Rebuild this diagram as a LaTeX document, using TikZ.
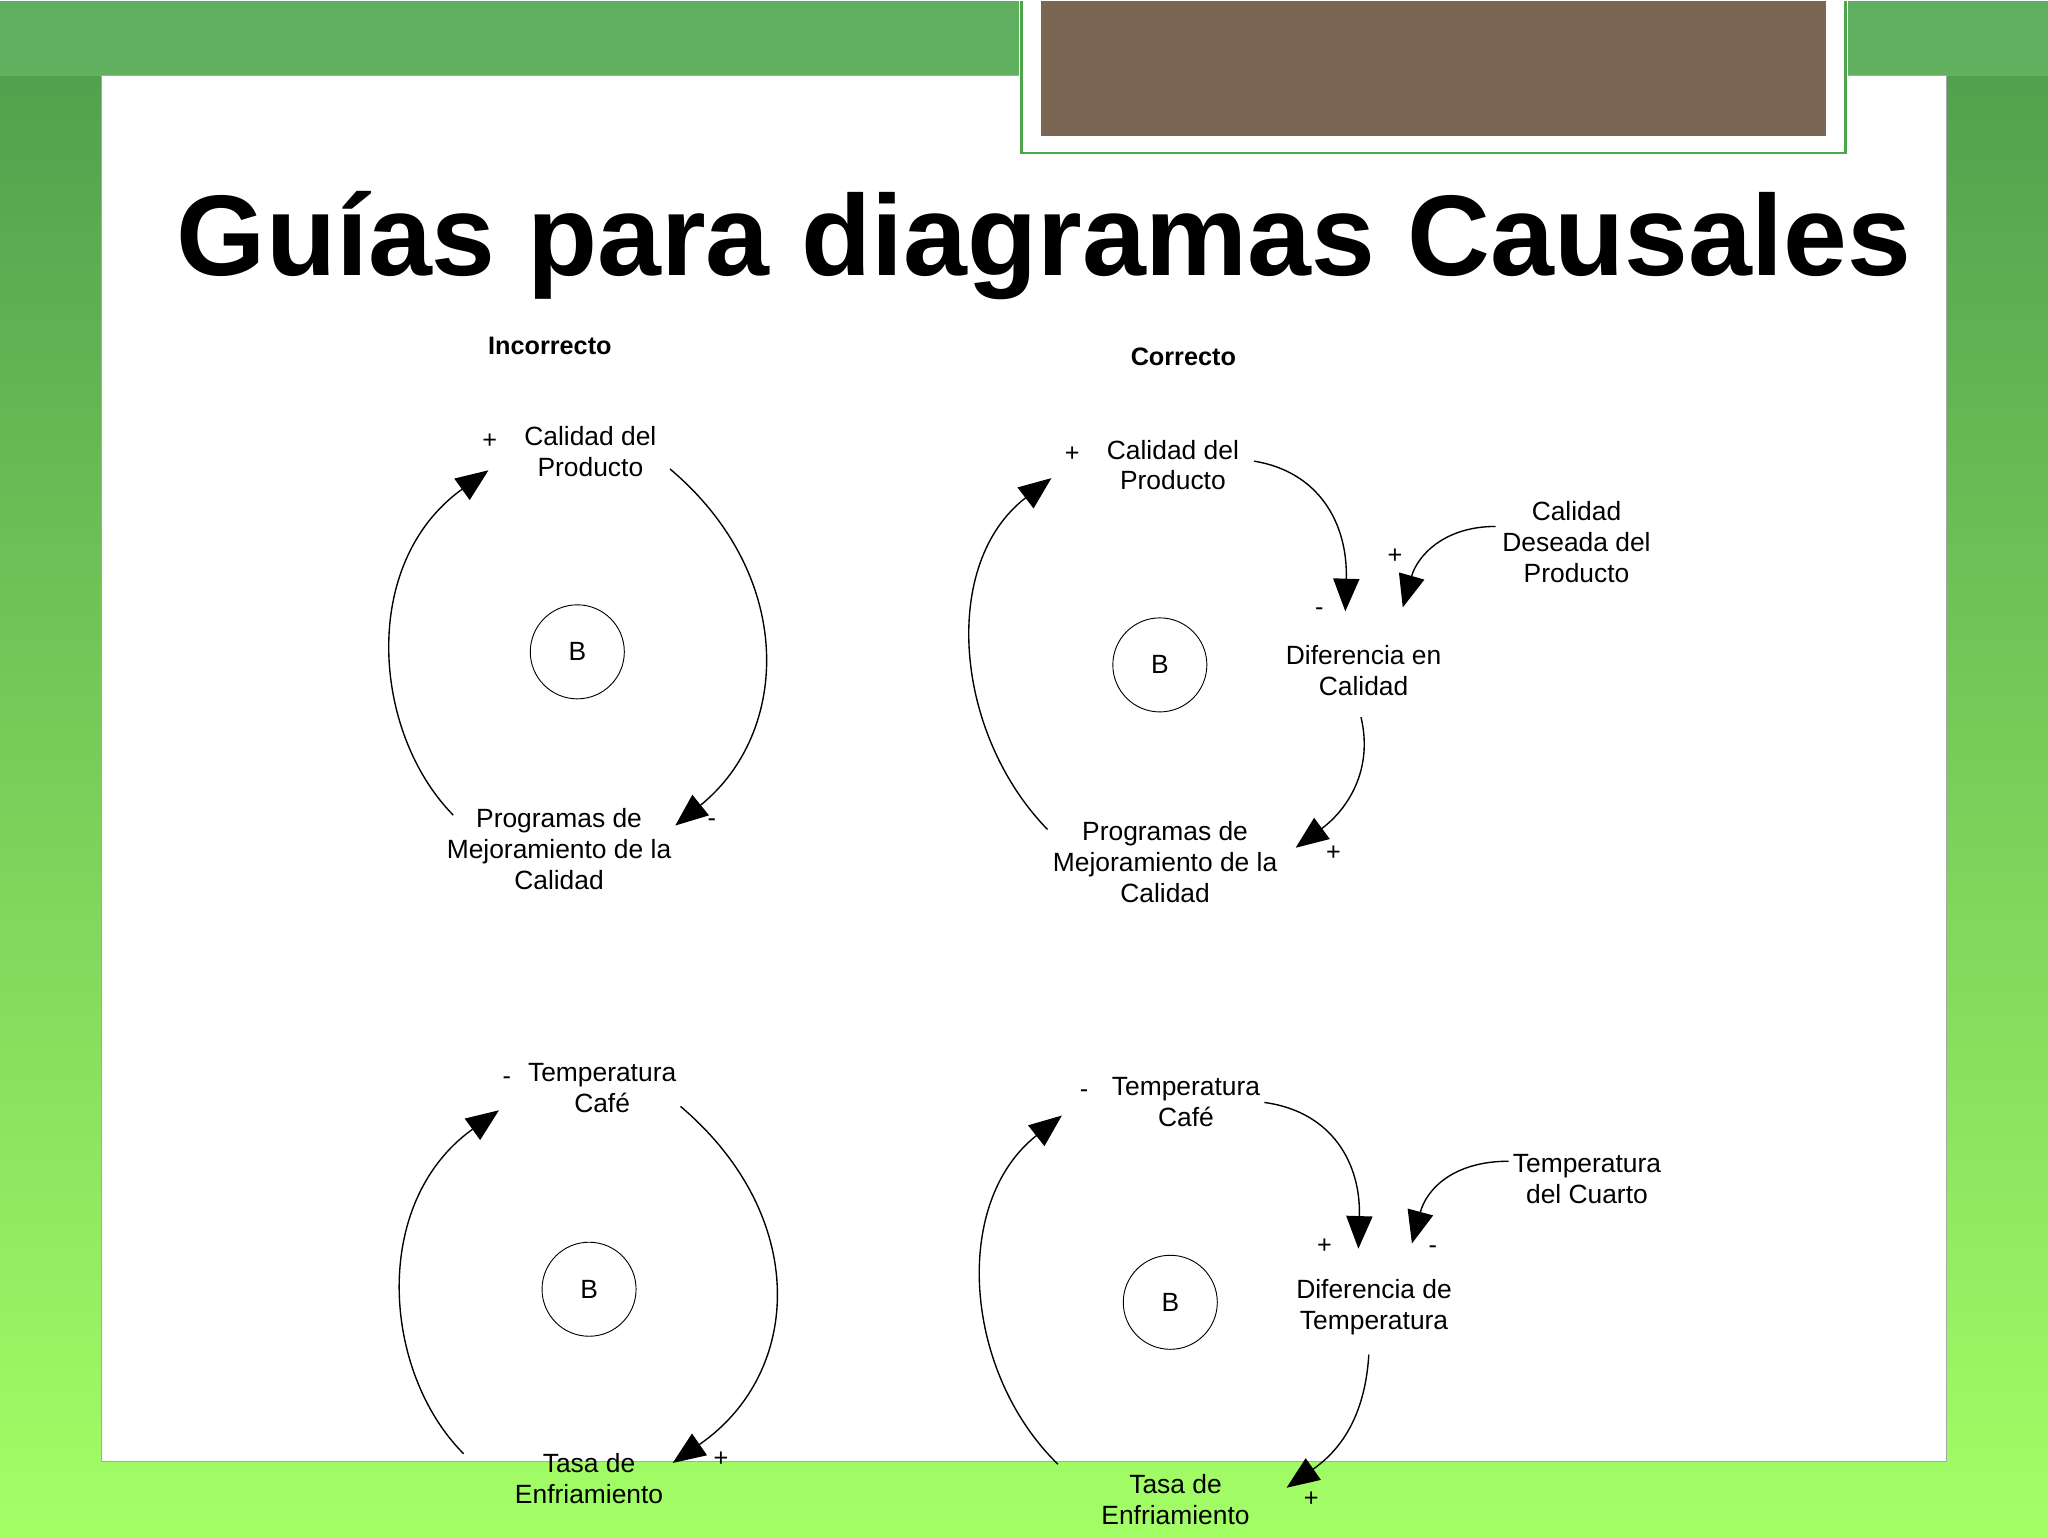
\documentclass[tikz,border=0pt]{standalone}
\usepackage{fontspec}
\setmainfont{Liberation Sans}
\usetikzlibrary{arrows.meta}
\begin{document}
\begin{tikzpicture}[x=0.02cm,y=-0.02cm,
 lbl/.style={font=\fontsize{11.5}{13.5}\selectfont,align=center,inner sep=0},
 sg/.style={font=\fontsize{11}{12}\selectfont,inner sep=0},
 cir/.style={draw,circle,minimum size=72*0.02cm,inner sep=0,font=\fontsize{11.5}{12}\selectfont},
 arr/.style={draw,line width=0.6pt,-{Triangle[length=0.5cm,width=0.4cm]}},
 arc/.style={draw,line width=0.6pt}]
\shade[top color=green!45!black!70!white, bottom color=green!60!yellow!60!white] (0,0) rectangle (1568,1176);
\fill[green!55!black!55!white,opacity=0.5] (0,0) rectangle (1568,57);
\draw[gray!70,fill=white] (78,57) rectangle (1490,1118);
\fill[white] (780,0) rectangle (1415,118);
\draw[green!50!black!70,line width=1.2pt] (782,0) -- (782,116) -- (1413,116) -- (1413,0);
\fill[brown!40!gray!80!black] (797,0) rectangle (1398,103);
\node[anchor=base west,inner sep=0,font=\fontsize{50}{56}\selectfont\bfseries] (title) at (135,210) {Guías para diagramas Causales};
\node[font=\fontsize{11}{12}\selectfont\bfseries] (inc) at (421,264) {Incorrecto};
\node[font=\fontsize{11}{12}\selectfont\bfseries] (cor) at (906,272) {Correcto};
% Panel 1
\node[lbl] (q1) at (452,345) {Calidad del\\Producto};
\node[lbl] (p1) at (428,649) {Programas de\\Mejoramiento de la\\Calidad};
\node[cir] (b1) at (442,498) {B};
\node[sg] (s1a) at (375,337) {+};
\node[sg] (s1b) at (545,629) {-};
\coordinate (a1s) at (347,623); \coordinate (a1e) at (374,359);
\coordinate (a2s) at (513,358); \coordinate (a2e) at (517,631);
\draw[arr] (a1s) .. controls (285,560) and (275,430) .. (a1e);
\draw[arr] (a2s) .. controls (610,440) and (605,560) .. (a2e);
% Panel 2
\node[lbl] (q2) at (898,355) {Calidad del\\Producto};
\node[lbl] (d2) at (1207,414) {Calidad\\Deseada del\\Producto};
\node[lbl] (f2) at (1044,512) {Diferencia en\\Calidad};
\node[lbl] (p2) at (892,659) {Programas de\\Mejoramiento de la\\Calidad};
\node[cir] (b2) at (888,508) {B};
\node[sg] (s2a) at (821,347) {+};
\node[sg] (s2b) at (1068,425) {+};
\node[sg] (s2c) at (1010,467) {-};
\node[sg] (s2d) at (1021,652) {+};
\coordinate (c1s) at (802,634); \coordinate (c1e) at (805,365);
\coordinate (c2s) at (960,352); \coordinate (c2e) at (1030,467);
\coordinate (c3s) at (1145,402); \coordinate (c3e) at (1074,464);
\coordinate (c4s) at (1042,548); \coordinate (c4e) at (992,648);
\draw[arr] (c1s) .. controls (730,560) and (720,430) .. (c1e);
\draw[arr] (c2s) .. controls (1010,360) and (1032,400) .. (c2e);
\draw[arr] (c3s) .. controls (1105,402) and (1085,425) .. (c3e);
\draw[arr] (c4s) .. controls (1052,590) and (1030,620) .. (c4e);
% Panel 3
\node[lbl] (q3) at (461,832) {Temperatura\\Café};
\node[lbl] (p3) at (451,1131) {Tasa de\\Enfriamiento};
\node[cir] (b3) at (451,986) {B};
\node[sg] (s3a) at (388,826) {-};
\node[sg] (s3b) at (552,1116) {+};
\coordinate (e1s) at (355,1112); \coordinate (e1e) at (382,849);
\coordinate (e2s) at (521,846); \coordinate (e2e) at (515,1119);
\draw[arr] (e1s) .. controls (293,1050) and (283,920) .. (e1e);
\draw[arr] (e2s) .. controls (620,930) and (615,1050) .. (e2e);
% Panel 4
\node[lbl] (q4) at (908,843) {Temperatura\\Café};
\node[lbl] (d4) at (1215,902) {Temperatura\\del Cuarto};
\node[lbl] (f4) at (1052,1000) {Diferencia de\\Temperatura};
\node[lbl] (p4) at (900,1147) {Tasa de\\Enfriamiento};
\node[cir] (b4) at (896,996) {B};
\node[sg] (s4a) at (830,836) {-};
\node[sg] (s4b) at (1014,953) {+};
\node[sg] (s4c) at (1097,956) {-};
\node[sg] (s4d) at (1004,1147) {+};
\coordinate (g1s) at (810,1120); \coordinate (g1e) at (813,853);
\coordinate (g2s) at (968,843); \coordinate (g2e) at (1040,955);
\coordinate (g3s) at (1155,888); \coordinate (g3e) at (1081,951);
\coordinate (g4s) at (1048,1036); \coordinate (g4e) at (985,1138);
\draw[arr] (g1s) .. controls (738,1050) and (728,920) .. (g1e);
\draw[arr] (g2s) .. controls (1020,850) and (1042,890) .. (g2e);
\draw[arr] (g3s) .. controls (1112,888) and (1092,910) .. (g3e);
\draw[arr] (g4s) .. controls (1045,1085) and (1025,1110) .. (g4e);
\end{tikzpicture}
\end{document}
